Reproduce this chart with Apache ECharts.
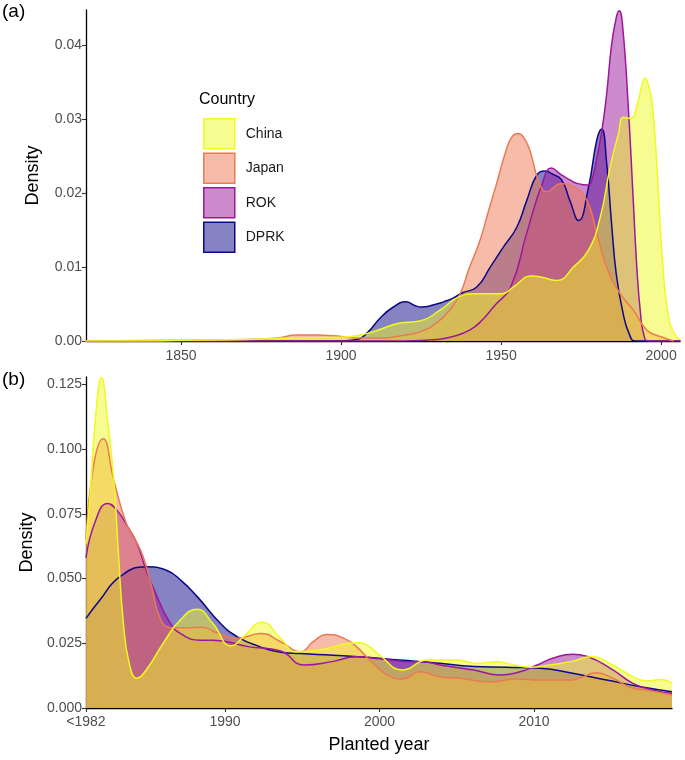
<!DOCTYPE html>
<html>
<head>
<meta charset="utf-8">
<script src="https://cdn.jsdelivr.net/npm/echarts@6/dist/echarts.min.js"></script>
<style>
  html, body { margin: 0; padding: 0; background: #fff; }
  #chart { width: 685px; height: 760px; }
</style>
</head>
<body>
<div id="chart"></div>
<script>
// legend / drawing order (bottom -> top is DPRK, ROK, Japan, China)
const countries = ['China', 'Japan', 'ROK', 'DPRK'];
const lineColors = { China: '#F0F921', Japan: '#ED7953', ROK: '#9C179E', DPRK: '#0D0887' };
const fillColors = {
    China: 'rgba(240,249,33,0.5)',
    Japan: 'rgba(237,121,83,0.5)',
    ROK: 'rgba(156,23,158,0.5)',
    DPRK: 'rgba(13,8,135,0.5)'
};

// panel (a): all planted years
const chinaYearsA = [1820, 1840, 1850, 1870, 1885, 1900, 1908, 1913, 1918, 1924.7, 1931, 1937, 1942.4, 1946, 1950.2, 1953.8, 1959.5, 1962, 1967.4, 1972.6, 1977.3, 1981, 1984.1, 1986.7, 1988.2, 1990.3, 1992.9, 1993.9, 1995, 1996.1, 1997.1, 1998.7, 2000.2, 2002.3, 2004.4, 2006];
const chinaDensA = [0, 0, 0.0001, 0.0002, 0.0004, 0.0005, 0.001, 0.0017, 0.0024, 0.0027, 0.0042, 0.006, 0.0064, 0.0064, 0.0064, 0.0073, 0.0088, 0.0087, 0.0082, 0.010, 0.0123, 0.0168, 0.0236, 0.0281, 0.0303, 0.0301, 0.0326, 0.0345, 0.0356, 0.0345, 0.0326, 0.0236, 0.0123, 0.0033, 0.0008, 0.0002];

const japanYearsA = [1820, 1850, 1870, 1880, 1886, 1892, 1898, 1905, 1912, 1920, 1925, 1930, 1934, 1937.2, 1940, 1943.4, 1946, 1948.6, 1951.7, 1953.5, 1955.3, 1957, 1959, 1961.6, 1964.2, 1966.5, 1968.4, 1972.6, 1976.8, 1979.9, 1983, 1987.2, 1991.3, 1995.5, 1999.7, 2004];
const japanDensA = [0, 0.0001, 0.0002, 0.0004, 0.0008, 0.0008, 0.0007, 0.0004, 0.0004, 0.0008, 0.0013, 0.0025, 0.0042, 0.0064, 0.0098, 0.0136, 0.0175, 0.0213, 0.026, 0.0277, 0.0281, 0.0276, 0.0258, 0.0218, 0.0202, 0.0208, 0.0213, 0.0209, 0.019, 0.0146, 0.010, 0.0064, 0.0042, 0.0015, 0.0006, 0];

const rokYearsA = [1820, 1920, 1930, 1935, 1940.3, 1944, 1948, 1953, 1958, 1963, 1965.7, 1968.5, 1971.5, 1974, 1977.3, 1978.5, 1980, 1981.5, 1983, 1984.5, 1986, 1986.9, 1988, 1989.8, 1991.3, 1992.4, 1993.5, 1994.5, 1996, 2006];
const rokDensA = [0, 0, 0.0002, 0.0006, 0.0015, 0.0028, 0.0048, 0.0073, 0.0146, 0.0215, 0.0234, 0.0226, 0.0218, 0.0213, 0.0211, 0.022, 0.025, 0.0285, 0.0335, 0.040, 0.0438, 0.0447, 0.0425, 0.0312, 0.019, 0.010, 0.004, 0.001, 0, 0];

const dprkYearsA = [1820, 1900, 1905, 1908.4, 1912, 1916, 1920.3, 1923, 1925.2, 1929, 1932, 1935, 1937.7, 1942.4, 1946.6, 1950.7, 1954.9, 1958, 1961.1, 1963.7, 1966, 1968.9, 1971.5, 1974.2, 1977.3, 1979.9, 1981.4, 1983, 1984.5, 1986, 1988, 1990, 1992, 2006];
const dprkDensA = [0, 0, 0.0002, 0.0012, 0.003, 0.0045, 0.0053, 0.0048, 0.0046, 0.0049, 0.0053, 0.0058, 0.0065, 0.0073, 0.010, 0.0127, 0.0154, 0.019, 0.0224, 0.023, 0.0226, 0.0218, 0.019, 0.0163, 0.0208, 0.0272, 0.0287, 0.024, 0.016, 0.009, 0.004, 0.001, 0, 0];

// panel (b): from 1982 on (1981 = "<1982")
const chinaYearsB = [1981, 1981.3, 1981.6, 1982, 1982.4, 1982.8, 1983.1, 1983.4, 1983.8, 1984.3, 1984.9, 1986, 1987.1, 1988.2, 1989.2, 1990.4, 1991.2, 1992.4, 1993.6, 1994.6, 1995.6, 1996.6, 1998.5, 1999.2, 2000, 2001.5, 2003.1, 2005, 2006.3, 2007.6, 2008.7, 2009.8, 2011, 2012.5, 2013.7, 2015.1, 2016.4, 2017.3, 2018.2, 2018.93];
const chinaDensB = [0.0635, 0.085, 0.111, 0.1276, 0.111, 0.088, 0.0597, 0.034, 0.0172, 0.0115, 0.0147, 0.025, 0.034, 0.0381, 0.0327, 0.0239, 0.0275, 0.0331, 0.0269, 0.0217, 0.022, 0.023, 0.0252, 0.0243, 0.0204, 0.0147, 0.0185, 0.0185, 0.0172, 0.0179, 0.0166, 0.0157, 0.0166, 0.0181, 0.0198, 0.0166, 0.0121, 0.0105, 0.011, 0.0095];

const japanYearsB = [1981, 1981.5, 1982.1, 1982.8, 1983.6, 1984.1, 1984.7, 1985.25, 1985.8, 1986.5, 1987.5, 1988.5, 1989.5, 1990.8, 1992.3, 1993.6, 1994.9, 1995.7, 1996.6, 1997.7, 1998.5, 1999.6, 2000.7, 2001.5, 2002.6, 2003.9, 2005.2, 2007.1, 2008.9, 2010.4, 2012.3, 2013.2, 2014, 2015.1, 2016.4, 2017.3, 2018.93];
const japanDensB = [0.065, 0.094, 0.104, 0.088, 0.0713, 0.066, 0.0584, 0.0468, 0.0346, 0.031, 0.031, 0.0312, 0.029, 0.0269, 0.0288, 0.0256, 0.0217, 0.0256, 0.0284, 0.0269, 0.0237, 0.0172, 0.0121, 0.0112, 0.014, 0.0121, 0.0115, 0.0101, 0.0112, 0.0108, 0.0108, 0.0121, 0.0136, 0.0115, 0.0076, 0.0069, 0.005];

const rokYearsB = [1981, 1981.6, 1982.4, 1983, 1983.7, 1984.3, 1984.9, 1985.6, 1986.4, 1987.1, 1988.4, 1989.2, 1991.5, 1993.6, 1995.1, 1997, 1998.5, 2000, 2001.5, 2003, 2003.9, 2006.1, 2007.8, 2009.1, 2010.2, 2011.2, 2012.5, 2013.4, 2015.1, 2016.4, 2017.7, 2018.93];
const rokDensB = [0.058, 0.072, 0.079, 0.0764, 0.070, 0.0635, 0.0532, 0.043, 0.0333, 0.0288, 0.0262, 0.0262, 0.0237, 0.022, 0.0166, 0.018, 0.0198, 0.019, 0.018, 0.0178, 0.0166, 0.0147, 0.0127, 0.014, 0.0166, 0.0192, 0.0208, 0.020, 0.0147, 0.0095, 0.0069, 0.0057];

const dprkYearsB = [1981, 1981.9, 1983.2, 1984.9, 1986.2, 1987.2, 1988.2, 1989.7, 1990.8, 1992.2, 1993.6, 1994.9, 1997, 1999.2, 2001.3, 2003.5, 2006.1, 2008.2, 2010.4, 2012.5, 2014.7, 2016.9, 2018.93];
const dprkDensB = [0.0346, 0.0417, 0.0507, 0.0545, 0.0532, 0.049, 0.043, 0.0327, 0.0275, 0.0238, 0.0215, 0.021, 0.0204, 0.0196, 0.0185, 0.0175, 0.016, 0.0157, 0.0153, 0.0134, 0.0108, 0.0082, 0.0063];

// tick labels
const xTicksA = [1850, 1900, 1950, 2000];
const yTicksA = [0, 0.01, 0.02, 0.03, 0.04];
const xTicksB = [1981, 1990, 2000, 2010];
const xTickLabelsB = ['<1982', '1990', '2000', '2010'];
const yTicksB = [0, 0.025, 0.05, 0.075, 0.1, 0.125];

const panelA = { China: [chinaYearsA, chinaDensA], Japan: [japanYearsA, japanDensA], ROK: [rokYearsA, rokDensA], DPRK: [dprkYearsA, dprkDensA] };
const panelB = { China: [chinaYearsB, chinaDensB], Japan: [japanYearsB, japanDensB], ROK: [rokYearsB, rokDensB], DPRK: [dprkYearsB, dprkDensB] };

const FONT = '"Liberation Sans", Arial, sans-serif';
const zip = (xs, ys) => xs.map((x, i) => [x, ys[i]]);

const makeSeries = (panel, idx) => ['DPRK', 'ROK', 'Japan', 'China'].map(name => ({
    name,
    type: 'line',
    xAxisIndex: idx,
    yAxisIndex: idx,
    data: zip(panel[name][0], panel[name][1]),
    smooth: 0.5,
    symbol: 'none',
    lineStyle: { color: lineColors[name], width: 1.5 },
    itemStyle: { color: lineColors[name] },
    areaStyle: { color: fillColors[name], opacity: 1 },
    emphasis: { disabled: true }
}));

const axisCommon = {
    axisLine: { show: true, lineStyle: { color: '#000', width: 1.3 } },
    axisTick: { show: true, length: 4, lineStyle: { color: '#333', width: 1.1 } },
    splitLine: { show: false },
    axisLabel: { color: '#4d4d4d', fontSize: 14, fontFamily: FONT, margin: 4 }
};

const chart = echarts.init(document.getElementById('chart'), null, { renderer: 'canvas' });

chart.setOption({
    animation: false,
    backgroundColor: '#fff',
    grid: [
        { left: 86, top: 10, width: 594, height: 331 },
        { left: 86, top: 377, width: 586, height: 331 }
    ],
    xAxis: [
        {
            ...axisCommon, type: 'value', gridIndex: 0, min: 1820.3, max: 2005.9,
            axisTick: { ...axisCommon.axisTick, customValues: xTicksA },
            axisLabel: { ...axisCommon.axisLabel, customValues: xTicksA, margin: 8, formatter: v => String(v) }
        },
        {
            ...axisCommon, type: 'value', gridIndex: 1, min: 1981, max: 2018.93,
            axisTick: { ...axisCommon.axisTick, customValues: xTicksB },
            axisLabel: {
                ...axisCommon.axisLabel, customValues: xTicksB, margin: 7,
                formatter: v => xTickLabelsB[xTicksB.indexOf(v)]
            },
            name: 'Planted year', nameLocation: 'middle', nameGap: 28,
            nameTextStyle: { fontSize: 18, color: '#000', fontFamily: FONT }
        }
    ],
    yAxis: [
        {
            ...axisCommon, type: 'value', gridIndex: 0, min: 0, max: 0.0448,
            axisTick: { ...axisCommon.axisTick, customValues: yTicksA },
            axisLabel: { ...axisCommon.axisLabel, customValues: yTicksA, formatter: v => v.toFixed(2) },
            name: 'Density', nameLocation: 'middle', nameRotate: 90, nameGap: 44,
            nameTextStyle: { fontSize: 18, color: '#000', fontFamily: FONT }
        },
        {
            ...axisCommon, type: 'value', gridIndex: 1, min: 0, max: 0.1278,
            axisTick: { ...axisCommon.axisTick, customValues: yTicksB },
            axisLabel: { ...axisCommon.axisLabel, customValues: yTicksB, formatter: v => v.toFixed(3) },
            name: 'Density', nameLocation: 'middle', nameRotate: 90, nameGap: 50,
            nameTextStyle: { fontSize: 18, color: '#000', fontFamily: FONT }
        }
    ],
    legend: {
        orient: 'vertical',
        left: 203,
        top: 118,
        padding: 0,
        itemWidth: 31,
        itemHeight: 30,
        itemGap: 3,
        selectedMode: false,
        icon: 'rect',
        textStyle: { fontSize: 14, color: '#1a1a1a', fontFamily: FONT, padding: [0, 0, 0, 6] },
        data: countries.map(name => ({
            name,
            icon: 'rect',
            itemStyle: { color: fillColors[name], borderColor: lineColors[name], borderWidth: 1.5, opacity: 1 }
        }))
    },
    graphic: [
        { type: 'text', left: 2, top: 2, style: { text: '(a)', fontSize: 19, fill: '#000', fontFamily: FONT } },
        { type: 'text', left: 2, top: 370, style: { text: '(b)', fontSize: 19, fill: '#000', fontFamily: FONT } },
        { type: 'text', left: 199, top: 92, style: { text: 'Country', fontSize: 16, fill: '#000', fontFamily: FONT } }
    ],
    series: [...makeSeries(panelA, 0), ...makeSeries(panelB, 1)]
});
</script>
</body>
</html>
